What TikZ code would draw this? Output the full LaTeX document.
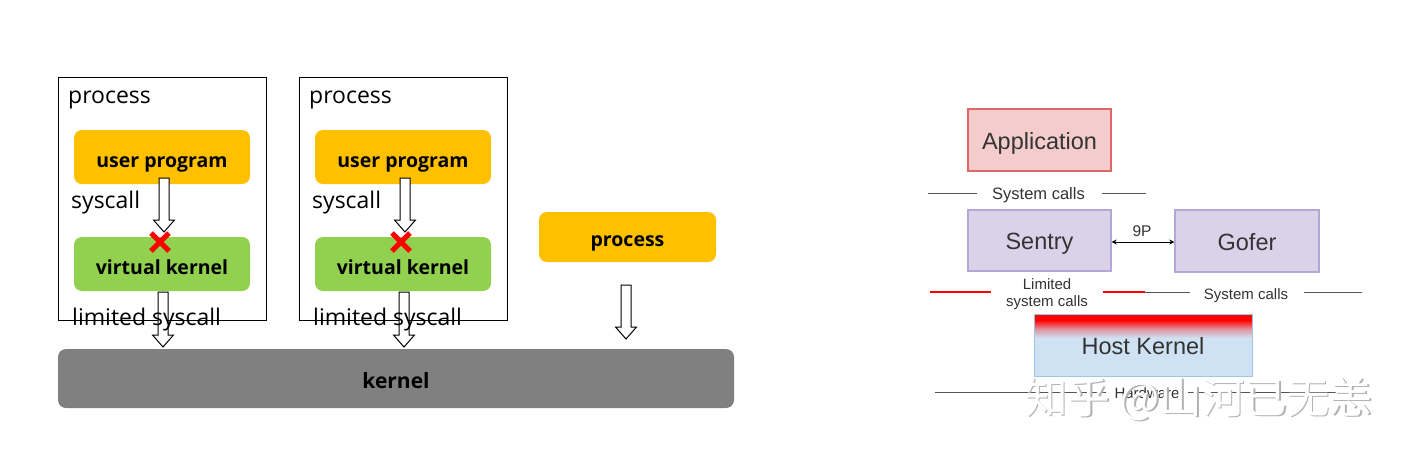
\documentclass[tikz,border=0pt]{standalone}
\usepackage{fontspec}
\setmainfont{Open Sans}
\newfontfamily\arialf{Liberation Sans}
\newfontfamily\cjkf{Noto Sans CJK SC}
\usetikzlibrary{calc,arrows.meta}
\definecolor{orng}{HTML}{FFC000}
\definecolor{grn}{HTML}{92D050}
\definecolor{kgray}{HTML}{808080}
\definecolor{appfill}{HTML}{F4CCCC}
\definecolor{appdraw}{HTML}{E06666}
\definecolor{purfill}{HTML}{D9D2E9}
\definecolor{purdraw}{HTML}{B4A7D6}
\definecolor{hkfill}{HTML}{CFE2F3}
\definecolor{hkdraw}{HTML}{9FC5E8}
\definecolor{rtext}{HTML}{333333}
\definecolor{rline}{HTML}{555555}
\newcommand\hollowarrow[2]{%
  \draw[line width=1pt, fill=white] let \p1=(#1), \p2=(#2) in
  (\x1-5pt,\y1) -- (\x1-5pt,\y2+12pt) -- (\x1-10.5pt,\y2+12pt) -- (\x1,\y2)
  -- (\x1+10.5pt,\y2+12pt) -- (\x1+5pt,\y2+12pt) -- (\x1+5pt,\y1) -- cycle;}
\tikzset{
  procbox/.style={draw=black, line width=1pt, minimum width=208pt, minimum height=243pt, inner sep=0pt},
  inbox/.style={rounded corners=8pt, minimum width=176pt, minimum height=54pt, inner sep=0pt,
    text height=20pt, text depth=0pt, font=\fontsize{19.5}{21}\selectfont\bfseries},
  ltext/.style={anchor=base west, inner sep=0pt, font=\fontsize{23}{26}\selectfont},
  redx/.style={draw=red, line width=5pt},
  rbox/.style={minimum width=143pt, minimum height=62pt, inner sep=0pt, line width=1.3pt, text=rtext,
    text height=18pt, text depth=0pt, font=\arialf\fontsize{23.5}{26}\selectfont},
  rsmall/.style={anchor=base, inner sep=0pt, text=rtext, font=\arialf\fontsize{15}{17}\selectfont, align=center},
  rl/.style={draw=rline, line width=1pt},
  rred/.style={draw=red, line width=2.5pt},
}
\begin{document}
\begin{tikzpicture}[x=1pt,y=-1pt]
\useasboundingbox (0,0) rectangle (1408,459);
\fill[white] (0,0) rectangle (1408,459);
% ---------- left diagram ----------
\node[fill=kgray, rounded corners=8pt, minimum width=676pt, minimum height=59pt, inner sep=0pt,
      text height=19pt, text depth=0pt, font=\fontsize{21}{23}\selectfont\bfseries] (kernel) at (396,378.5) {kernel};
\foreach \i/\dx in {1/0,2/241}{
  \node[procbox] (pb\i) at (162+\dx,198.5) {};
  \node[inbox, fill=orng] (up\i) at (162+\dx,157) {user program};
  \node[inbox, fill=grn] (vk\i) at (162+\dx,264) {virtual kernel};
  \node[ltext] (pl\i) at (68+\dx,103) {process};
  \coordinate (s\i a) at (164+\dx,178);
  \coordinate (s\i b) at (164+\dx,232);
  \coordinate (l\i a) at (163+\dx,292);
  \coordinate (l\i b) at (163+\dx,347);
  \hollowarrow{s\i a}{s\i b}
  \hollowarrow{l\i a}{l\i b}
  \coordinate (x\i) at (160+\dx,242);
  \draw[redx] ($(x\i)+(-9,-9)$) -- ($(x\i)+(9,9)$);
  \draw[redx] ($(x\i)+(-9,9)$) -- ($(x\i)+(9,-9)$);
  \node[ltext] (sc\i) at (71+\dx,208) {syscall};
  \node[ltext] (ls\i) at (72+\dx,325) {limited syscall};
}
\node[inbox, fill=orng, minimum width=177pt, minimum height=50pt, text height=19pt] (p3) at (627.5,237) {process};
\coordinate (p3a) at (626,285);
\coordinate (p3b) at (626,339);
\hollowarrow{p3a}{p3b}
% ---------- right diagram ----------
\node[rbox, fill=appfill, draw=appdraw] (app) at (1039.5,140) {Application};
\node[rbox, fill=purfill, draw=purdraw, minimum height=61pt] (sentry) at (1039.5,240.5) {Sentry};
\node[rbox, fill=purfill, draw=purdraw, minimum width=144pt] (gofer) at (1247,241) {Gofer};
\draw[{Stealth[length=5pt,width=5pt]}-{Stealth[length=5pt,width=5pt]}, draw=black, line width=0.8pt]
  (sentry.east |- 0,242) -- (gofer.west |- 0,242);
\node[rsmall, font=\arialf\fontsize{15.5}{18}\selectfont] (ninep) at (1142,236) {9P};
% system calls (top)
\node[rsmall, font=\arialf\fontsize{16.5}{18}\selectfont] (sc0) at (1038.5,199) {System calls};
\coordinate (t1a) at (928,193); \coordinate (t1b) at (977,193);
\coordinate (t2a) at (1102,193); \coordinate (t2b) at (1146,193);
\draw[rl] (t1a) -- (t1b);
\draw[rl] (t2a) -- (t2b);
% limited system calls row
\node[rsmall] (lsc1) at (1047,289) {Limited};
\node[rsmall] (lsc2) at (1047,306) {system calls};
\node[rsmall] (sc2) at (1246,299) {System calls};
\coordinate (m1a) at (930,292); \coordinate (m1b) at (991,292);
\coordinate (m2a) at (1103,292); \coordinate (m2b) at (1145,292);
\coordinate (m3b) at (1190,292);
\coordinate (m4a) at (1304,292); \coordinate (m4b) at (1362,292);
\draw[rred] (m1a) -- (m1b);
\draw[rl] (m2b) -- (m3b);
\draw[rred] (m2a) -- (m2b);
\draw[rl] (m4a) -- (m4b);
% host kernel
\fill[hkfill] (1034,314) rectangle (1252,376);
\fill[red] (1034,314) rectangle (1252,320);
\shade[top color=red, bottom color=hkfill, middle color=red!35!hkfill] (1034,320) rectangle (1252,338);
\draw[hkdraw, line width=1pt] (1034,314) rectangle (1252,376);
\node[rbox, draw=none, fill=none, minimum width=218pt] (host) at (1143,345) {Host Kernel};
% hardware
\node[rsmall] (hw) at (1147,398) {Hardware};
\coordinate (h1a) at (935,392); \coordinate (h1b) at (1106,392);
\coordinate (h2a) at (1188,392); \coordinate (h2b) at (1340,392);
\draw[rl] (h1a) -- (h1b);
\draw[rl] (h2a) -- (h2b);
% watermark
\node[anchor=west, inner sep=0pt, text=gray!60, font=\cjkf\fontsize{42.5}{44}\selectfont] (wm0) at (1026.5,400.5) {知乎 @山河已无恙};
\node[anchor=west, inner sep=0pt, text=white, font=\cjkf\fontsize{42.5}{44}\selectfont] (wm) at (1025,399) {知乎 @山河已无恙};
\end{tikzpicture}
\end{document}
